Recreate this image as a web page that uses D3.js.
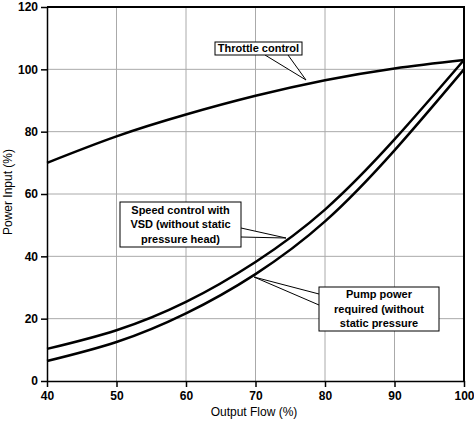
<!DOCTYPE html>
<meta charset="utf-8">
<style>
body { margin: 0; background: #fff; }
svg { font-family: "Liberation Sans", Arial, sans-serif; }
.axis text { font-size: 12px; font-weight: bold; fill: #000; }
.axis path, .axis line { stroke: #000; stroke-width: 1.5; }
</style>
<body>
<svg width="474" height="422"></svg>
<script src="https://d3js.org/d3.v7.min.js"></script>
<script>
// values
var flow = [40, 50, 60, 70, 80, 90, 100];
var throttle = [70, 78.5, 85.5, 91.5, 96.5, 100.3, 103];
var speedVSD = [10.3, 16.3, 25.4, 38.2, 55, 77.5, 103];
var pumpPower = [6.4, 12.5, 21.7, 34.3, 51.2, 74, 100];
var xTicks = [40, 50, 60, 70, 80, 90, 100];
var yTicks = [0, 20, 40, 60, 80, 100, 120];

var svg = d3.select("svg"),
    margin = {top: 7, right: 10, bottom: 41, left: 47},
    width = 464 - margin.left,
    height = 381 - margin.top,
    g = svg.append("g").attr("transform", "translate(" + margin.left + "," + margin.top + ")");

var x = d3.scaleLinear().domain([40, 100]).range([0, width]);
var y = d3.scaleLinear().domain([0, 120]).range([height, 0]);

// grid
g.append("g").selectAll("line")
  .data(xTicks.slice(1, -1))
  .enter().append("line")
    .attr("x1", function(d) { return x(d); })
    .attr("x2", function(d) { return x(d); })
    .attr("y1", 0).attr("y2", height)
    .attr("stroke", "#aaa");

g.append("g").selectAll("line")
  .data(yTicks.slice(1, -1))
  .enter().append("line")
    .attr("y1", function(d) { return y(d); })
    .attr("y2", function(d) { return y(d); })
    .attr("x1", 0).attr("x2", width)
    .attr("stroke", "#aaa");

// frame top and right
g.append("path")
  .attr("d", "M0," + y(120) + "H" + x(100) + "V" + y(0))
  .attr("fill", "none")
  .attr("stroke", "#000")
  .attr("stroke-width", 2);

g.append("g")
  .attr("class", "axis")
  .attr("transform", "translate(0," + height + ")")
  .call(d3.axisBottom(x).tickValues(xTicks).tickSize(6).tickPadding(4).tickSizeOuter(0));

g.append("g")
  .attr("class", "axis")
  .call(d3.axisLeft(y).tickValues(yTicks).tickSize(6).tickPadding(3).tickSizeOuter(0));

// curves
var line = d3.line()
  .x(function(d) { return x(d[0]); })
  .y(function(d) { return y(d[1]); })
  .curve(d3.curveNatural);

[throttle, speedVSD, pumpPower].forEach(function(s) {
  g.append("path")
    .datum(flow.map(function(f, i) { return [f, s[i]]; }))
    .attr("d", line)
    .attr("fill", "none")
    .attr("stroke", "#000")
    .attr("stroke-width", 2.5);
});

// callouts (pixel positions of box, wedge base points and tip)
var callouts = [
  {lines: ["Throttle control"], box: [215, 42, 87, 13],
   wedge: [[265, 55], [288, 55], [306, 80]]},
  {lines: ["Speed control with", "VSD (without static", "pressure head)"], box: [120, 202, 121, 45],
   wedge: [[241, 228], [241, 237], [286, 238]]},
  {lines: ["Pump power", "required (without", "static pressure"], box: [319, 287, 120, 44],
   wedge: [[319, 294], [319, 305], [254, 277]]}
];

callouts.forEach(function(c) {
  var b = c.box;
  svg.append("path")
    .attr("d", "M" + c.wedge[0] + "L" + c.wedge[2] + "L" + c.wedge[1])
    .attr("fill", "#fff")
    .attr("stroke", "#000")
    .attr("stroke-width", 1);
  svg.append("rect")
    .attr("x", b[0]).attr("y", b[1])
    .attr("width", b[2]).attr("height", b[3])
    .attr("fill", "#fff")
    .attr("stroke", "#000")
    .attr("stroke-width", 1);
  var n = c.lines.length;
  c.lines.forEach(function(t, i) {
    svg.append("text")
      .attr("x", b[0] + b[2] / 2)
      .attr("y", b[1] + b[3] / 2 + (i - (n - 1) / 2) * 14.5)
      .attr("dy", "0.35em")
      .attr("text-anchor", "middle")
      .attr("font-size", 11)
      .attr("font-weight", "bold")
      .text(t);
  });
});

// axis titles
svg.append("text")
  .attr("x", 254)
  .attr("y", 416)
  .attr("text-anchor", "middle")
  .attr("font-size", 12)
  .text("Output Flow (%)");

svg.append("text")
  .attr("transform", "translate(12,192) rotate(-90)")
  .attr("text-anchor", "middle")
  .attr("font-size", 12)
  .text("Power Input (%)");
</script>
